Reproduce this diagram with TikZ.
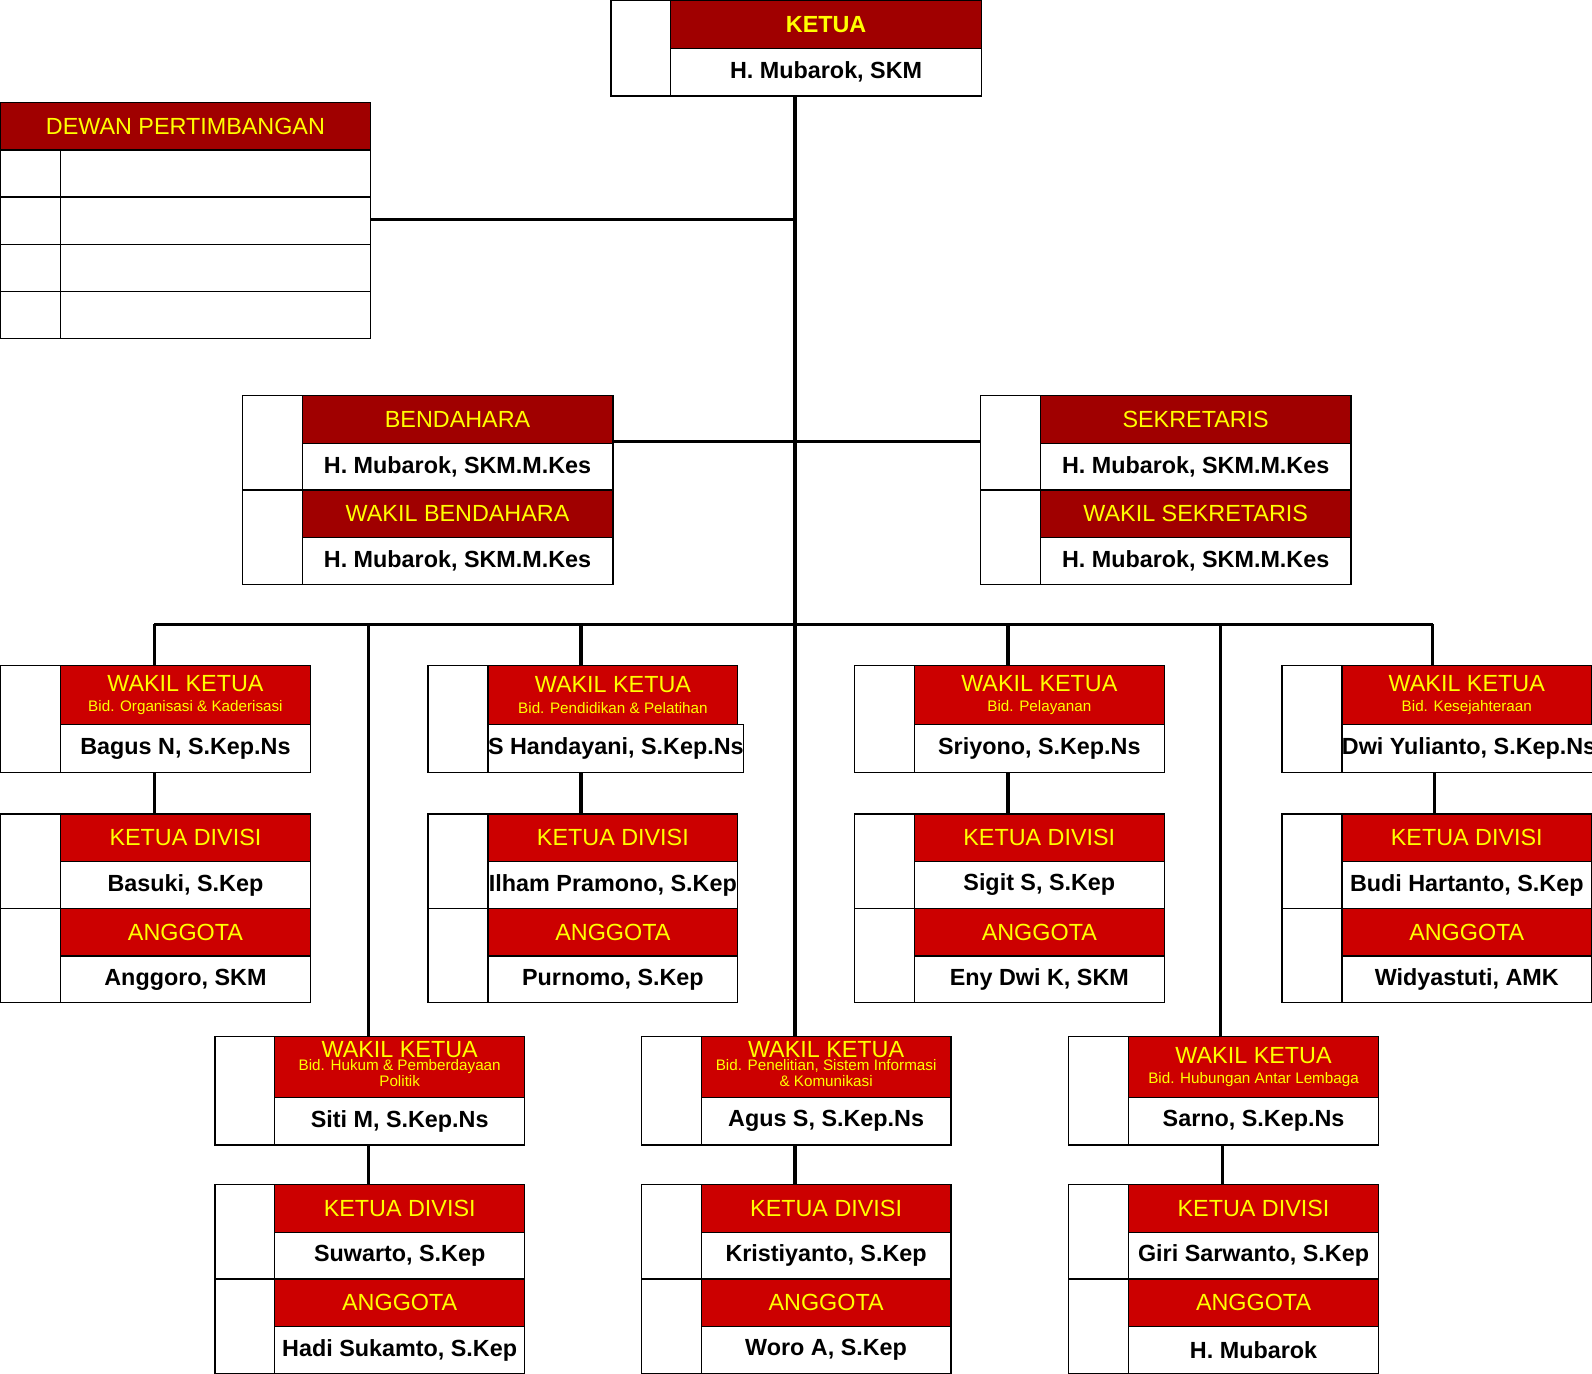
\documentclass[tikz,border=0pt]{standalone}
\usepackage{fontspec}
\setmainfont{Liberation Sans}
\definecolor{dred}{HTML}{A00000}
\definecolor{bred}{HTML}{CC0000}
\definecolor{yel}{HTML}{FFFF00}
\begin{document}
\begin{tikzpicture}[x=1pt,y=-1pt,
 base/.style={draw=black,line width=1.3pt,anchor=north west,inner sep=0pt,align=center},
 sq/.style={base,fill=white},
 hd/.style={base,fill=bred,text=yel,font=\fontsize{23}{23}\selectfont},
 dhd/.style={base,fill=dred,text=yel,font=\fontsize{23}{23}\selectfont},
 nm/.style={base,fill=white,font=\bfseries\fontsize{23}{23}\selectfont},
 con/.style={line width=3.5pt}]
\useasboundingbox (0,0) rectangle (1568,1353);
\newcommand\bx[7]{\node[#6,minimum width=#4pt,minimum height=#5pt] (#1) at (#2,#3) {#7};}
\newcommand\wakil[6]{%
 \bx{#1s}{#2}{#3}{59}{#6+47}{sq}{}
 \bx{#1h}{#2+59}{#3}{246}{#6}{hd}{#4}
 \bx{#1n}{#2+59}{#3+#6}{246}{47}{nm}{#5}}
\newcommand\divisi[5]{%
 \bx{#1s1}{#2}{#3}{59}{93}{sq}{}
 \bx{#1s2}{#2}{#3+93}{59}{93}{sq}{}
 \bx{#1h1}{#2+59}{#3}{246}{47}{hd}{KETUA DIVISI}
 \bx{#1n1}{#2+59}{#3+47}{246}{46}{nm}{#4}
 \bx{#1h2}{#2+59}{#3+93}{246}{47}{hd}{ANGGOTA}
 \bx{#1n2}{#2+59}{#3+140}{246}{46}{nm}{#5}}
\newcommand\pair[7]{%
 \bx{#1s1}{#2}{#3}{59}{93}{sq}{}
 \bx{#1s2}{#2}{#3+93}{59}{93}{sq}{}
 \bx{#1h1}{#2+59}{#3}{306}{47}{dhd}{#4}
 \bx{#1n1}{#2+59}{#3+47}{306}{46}{nm}{#5}
 \bx{#1h2}{#2+59}{#3+93}{306}{47}{dhd}{#6}
 \bx{#1n2}{#2+59}{#3+140}{306}{46}{nm}{#7}}
\newcommand\sub[1]{\\[-3pt]{\fontsize{15}{15}\selectfont #1}}
\newcommand\subb[2]{\\[-2pt]{\fontsize{15}{17}\selectfont\begin{tabular}{@{}c@{}}#1\\[-1pt]#2\end{tabular}}}

\coordinate (t0) at (783,94);
\coordinate (t1) at (783,216);
\coordinate (t2) at (783,435);
\coordinate (t3) at (783,615);
\coordinate (t4) at (783,1020);
\coordinate (dv) at (364,216);
\coordinate (bl) at (601,435);
\coordinate (sr) at (965,435);
\coordinate (h1) at (152,615);
\coordinate (h2) at (363,615);
\coordinate (h3) at (572,615);
\coordinate (h5) at (993,615);
\coordinate (h6) at (1202,615);
\coordinate (h7) at (1411,615);
\coordinate (b1) at (152,655);
\coordinate (b2) at (363,1020);
\coordinate (b3) at (572,655);
\coordinate (b5) at (993,655);
\coordinate (b6) at (1202,1020);
\coordinate (b7) at (1411,655);
\draw[con] (t0) -- (t4);
\draw[con] (dv) -- (t1);
\draw[con] (bl) -- (sr);
\draw[con] (h1) -- (h7);
\foreach \i in {1,2,3,5,6,7} \draw[con] (h\i) -- (b\i);

\bx{ks}{601}{0}{59}{94}{sq}{}
\bx{kh}{660}{0}{306}{47}{dhd}{\bfseries KETUA}
\bx{kn}{660}{47}{306}{47}{nm}{H. Mubarok, SKM}
\bx{dh}{0}{100}{364}{47}{dhd}{DEWAN PERTIMBANGAN}
\foreach \r in {0,1,2,3}{
 \bx{ds\r}{0}{147+46.5*\r}{59}{46.5}{sq}{}
 \bx{dn\r}{59}{147+46.5*\r}{305}{46.5}{sq}{}}
\pair{be}{238}{389}{BENDAHARA}{H. Mubarok, SKM.M.Kes}{WAKIL BENDAHARA}{H. Mubarok, SKM.M.Kes}
\pair{se}{965}{389}{SEKRETARIS}{H. Mubarok, SKM.M.Kes}{WAKIL SEKRETARIS}{H. Mubarok, SKM.M.Kes}
\wakil{w1}{0}{655}{WAKIL KETUA\sub{Bid. Organisasi \& Kaderisasi}}{Bagus N, S.Kep.Ns}{58}
\wakil{w3}{421}{655}{WAKIL KETUA\sub{Bid. Pendidikan \& Pelatihan}}{S Handayani, S.Kep.Ns}{58}
\wakil{w5}{841}{655}{WAKIL KETUA\sub{Bid. Pelayanan}}{Sriyono, S.Kep.Ns}{58}
\wakil{w7}{1262}{655}{WAKIL KETUA\sub{Bid. Kesejahteraan}}{Dwi Yulianto, S.Kep.Ns}{58}
\divisi{d1}{0}{801}{Basuki, S.Kep}{Anggoro, SKM}
\divisi{d3}{421}{801}{Ilham Pramono, S.Kep}{Purnomo, S.Kep}
\divisi{d5}{841}{801}{Sigit S, S.Kep}{Eny Dwi K, SKM}
\divisi{d7}{1262}{801}{Budi Hartanto, S.Kep}{Widyastuti, AMK}
\wakil{w2}{211}{1020}{WAKIL KETUA\subb{Bid. Hukum \& Pemberdayaan}{Politik}}{Siti M, S.Kep.Ns}{60}
\wakil{w4}{631}{1020}{WAKIL KETUA\subb{Bid. Penelitian, Sistem Informasi}{\& Komunikasi}}{Agus S, S.Kep.Ns}{60}
\wakil{w6}{1052}{1020}{WAKIL KETUA\sub{Bid. Hubungan Antar Lembaga}}{Sarno, S.Kep.Ns}{60}
\divisi{d2}{211}{1166}{Suwarto, S.Kep}{Hadi Sukamto, S.Kep}
\divisi{d4}{631}{1166}{Kristiyanto, S.Kep}{Woro A, S.Kep}
\divisi{d6}{1052}{1166}{Giri Sarwanto, S.Kep}{H. Mubarok}
\foreach \i/\x in {1/152,3/572,5/993,7/1413}
 \draw[con] (w\i s.south -| \x,0) -- (d\i s1.north -| \x,0);
\foreach \i/\x in {2/363,4/783,6/1204}
 \draw[con] (w\i s.south -| \x,0) -- (d\i s1.north -| \x,0);
\end{tikzpicture}
\end{document}
